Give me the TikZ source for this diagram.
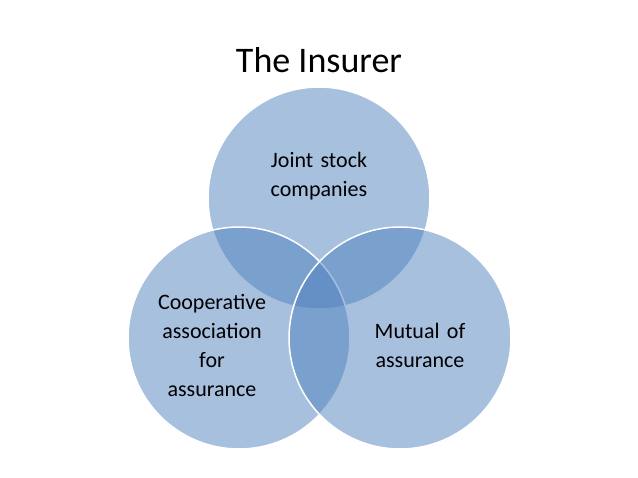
\documentclass[tikz,border=0pt]{standalone}
\usepackage{fontspec}
\setmainfont{Carlito}
\definecolor{venn}{HTML}{4F81BD}
\tikzset{
  set/.style = {circle, draw=white, line width=1.5pt, fill=venn, fill opacity=0.5,
    minimum size=222pt, inner sep=0pt},
  lbl/.style = {text width=130pt, align=center, font=\fontsize{22}{29}\selectfont}
}
\begin{document}
\begin{tikzpicture}[x=1pt, y=-1pt]
  \useasboundingbox (0,0) rectangle (638,478);
  % Place sets
  \node [set] (joint) at (319,198) {};
  \node [set] (coop) at (239,338) {};
  \node [set] (mutual) at (400,338) {};
  % Labels
  \node [font=\fontsize{36}{40}\selectfont] (title) at (319,60) {The Insurer};
  \node [lbl] (jointtxt) at (319,176) {Joint stock\\companies};
  \node [lbl] (cooptxt) at (212,345) {Cooperative\\association\\for\\assurance};
  \node [lbl] (mutualtxt) at (420,345) {Mutual of\\assurance};
\end{tikzpicture}
\end{document}
